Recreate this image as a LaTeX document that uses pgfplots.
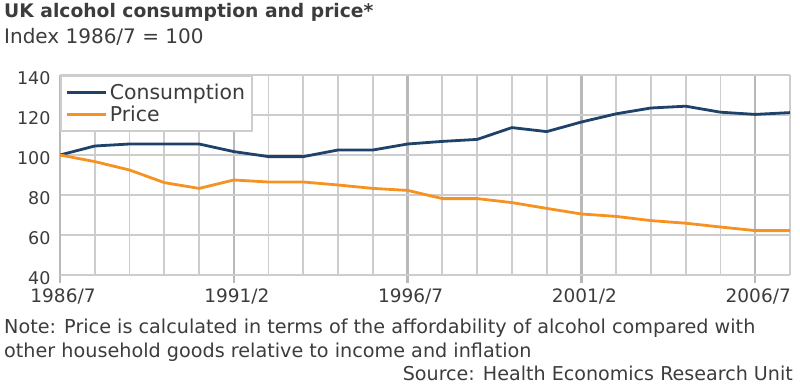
\documentclass[border=0pt]{standalone}
\usepackage{pgfplots}
\pgfplotsset{compat=1.18}
\usepackage{fontspec}
\setmainfont{DejaVu Sans}
\definecolor{cons}{RGB}{30,66,106}
\definecolor{price}{RGB}{246,146,34}
\definecolor{txt}{RGB}{60,60,60}
\definecolor{gridc}{RGB}{205,205,205}
\definecolor{majc}{RGB}{185,185,185}
\definecolor{hundred}{RGB}{140,140,140}

\pgfplotstableread{
x cons price
0 100 100
1 104.5 96.7
2 105.5 92.5
3 105.5 86.2
4 105.5 83.3
5 101.7 87.5
6 99.2 86.5
7 99.2 86.5
8 102.5 85
9 102.5 83.3
10 105.5 82.3
11 106.8 78.2
12 107.8 78.2
13 113.7 76.2
14 111.7 73.3
15 116.5 70.5
16 120.6 69.3
17 123.5 67.2
18 124.4 65.9
19 121.4 64.0
20 120.3 62.2
21 121.2 62.2
}\datatable

\begin{document}
\begin{tikzpicture}
\path (0pt,0pt) rectangle (800pt,-391pt);
\node[anchor=north west, inner sep=0, font=\fontsize{18.7}{22}\selectfont\bfseries, text=txt] at (4pt,-3pt) {UK alcohol consumption and price*};
\node[anchor=north west, inner sep=0, font=\fontsize{20}{24}\selectfont, text=txt] at (4pt,-28pt) {Index 1986/7 = 100};
\begin{axis}[at={(60pt,-275pt)}, anchor=south west, scale only axis,
  width=730pt, height=200pt,
  xmin=0, xmax=21, ymin=40, ymax=140,
  xtick={0,5,10,15,20},
  xticklabels={1986/7,1991/2,1996/7,2001/2,2006/7},
  minor xtick={1,2,3,4,6,7,8,9,11,12,13,14,16,17,18,19,21},
  ytick={40,60,80,100,120,140},
  /pgf/number format/assume math mode=true,
  grid=both,
  major grid style={draw=majc, line width=2.4pt},
  minor grid style={draw=gridc, line width=1.8pt},
  axis line style={draw=gridc, line width=1.8pt},
  x axis line style={draw=gridc},
  y axis line style={draw=majc, line width=2.4pt},
  axis lines*=left,
  ymajorgrids=true,
  y grid style={draw=gridc, line width=1.8pt},
  major x tick style={draw=majc, line width=2.4pt},
  minor x tick style={draw=none},
  ytick style={draw=none},
  major tick length=8pt,
  tick align=outside,
  xticklabel style={font=\fontsize{18.5}{22}\selectfont, text=txt, yshift=-2pt, xshift=3pt},
  yticklabel style={font=\fontsize{17.5}{21}\selectfont, text=txt, yshift=-3pt, xshift=2pt},
  extra y ticks={100},
  extra y tick labels={},
  extra y tick style={grid style={draw=hundred, line width=2.6pt}},
  legend style={at={(0,1)}, anchor=north west, draw=gridc, line width=1.8pt, fill=white,
    font=\fontsize{20.4}{24}\selectfont, text=txt, inner xsep=5pt, inner ysep=6pt,
    row sep=1pt, cells={anchor=west}},
  legend image code/.code={\draw[#1, line width=3pt] (0pt,0pt) -- (39pt,0pt);},
  legend cell align=left,
]
\addplot[cons, line width=2.8pt] table[x=x, y=cons] {\datatable};
\addlegendentry{Consumption}
\addplot[price, line width=2.8pt] table[x=x, y=price] {\datatable};
\addlegendentry{Price}
\end{axis}
\node[anchor=north west, inner sep=0, align=left, font=\fontsize{19.2}{23.5}\selectfont, text=txt] at (4pt,-319pt) {Note: Price is calculated in terms of the affordability of alcohol compared with\\other household goods relative to income and inflation};
\node[anchor=north east, inner sep=0, font=\fontsize{19.1}{22}\selectfont, text=txt] at (793pt,-366pt) {Source: Health Economics Research Unit};
\end{tikzpicture}
\end{document}
